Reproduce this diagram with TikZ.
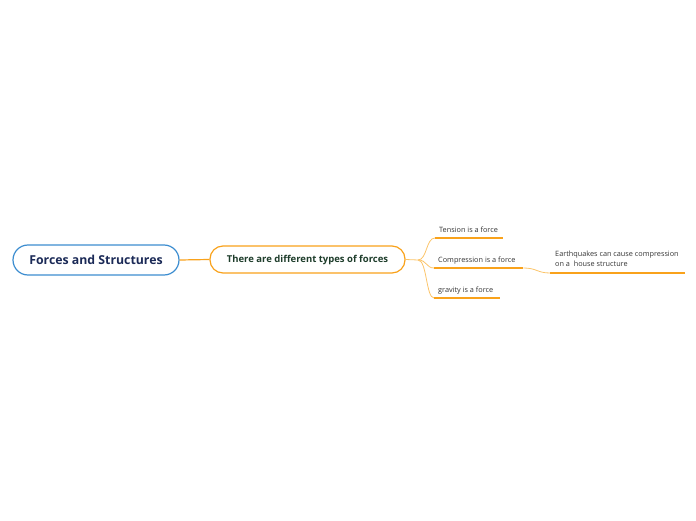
\documentclass[tikz,border=0pt]{standalone}
\usepackage{fontspec}
\setmainfont{Open Sans}
\definecolor{rootblue}{HTML}{3C8DD0}
\definecolor{rootText}{HTML}{1B2A57}
\definecolor{mainOrange}{HTML}{F9A21B}
\definecolor{lightOrange}{HTML}{FBC46A}
\definecolor{subText}{HTML}{1E3D2B}
\definecolor{leafText}{HTML}{333333}
\tikzset{
  rootbox/.style={draw=rootblue, line width=1.2pt, rounded corners=15pt, fill=white,
    minimum width=166pt, minimum height=30pt, inner sep=0pt, text=rootText,
    text height=8.8pt, text depth=0pt,
    font=\fontsize{12.3}{14}\selectfont\bfseries},
  subbox/.style={draw=mainOrange, line width=1.2pt, rounded corners=13pt, fill=white,
    minimum width=195pt, minimum height=27pt, inner sep=0pt, text=subText,
    text height=6.8pt, text depth=0pt,
    font=\fontsize{9.5}{11}\selectfont\bfseries},
  leaf/.style={anchor=south west, inner xsep=4pt, inner ysep=5pt, text depth=0pt,
    text=leafText, align=left, font=\fontsize{7.3}{10}\selectfont,
    append after command={(\tikzlastnode.south west) edge[draw=mainOrange, line width=1.6pt] (\tikzlastnode.south east)}},
  link/.style={draw=mainOrange, line width=1.2pt},
  thinlink/.style={draw=lightOrange, line width=0.8pt},
}
\begin{document}
\begin{tikzpicture}[x=1pt,y=1pt]
\useasboundingbox (0,0) rectangle (696,520);
\node[rootbox] (root) at (96,260) {Forces and Structures};
\node[subbox] (types) at (307.5,260.5) {There are different types of forces};
\node[leaf] (tension) at (435,282) {\makebox[60pt][l]{Tension is a force}};
\node[leaf] (compr) at (434,252) {\makebox[81pt][l]{Compression is a force}};
\node[leaf] (grav) at (434,222) {\makebox[58pt][l]{gravity is a force}};
\node[leaf, inner xsep=5pt, inner ysep=6pt] (quake) at (550,247) {\makebox[125pt][l]{Earthquakes can cause compression}\\\makebox[125pt][l]{on a\ \ house structure}};
\coordinate (hub) at (418,260);
\draw[link] (root.east) -- (types.west);
\draw[thinlink] (types.east) -- (hub);
\draw[thinlink] (hub) .. controls (427,260) and (426,282) .. (tension.south west);
\draw[thinlink] (hub) .. controls (427,260) and (426,252) .. (compr.south west);
\draw[thinlink] (hub) .. controls (427,260) and (426,222) .. (grav.south west);
\draw[thinlink] (compr.south east) .. controls (537,252) and (537,247) .. (quake.south west);
\end{tikzpicture}
\end{document}
